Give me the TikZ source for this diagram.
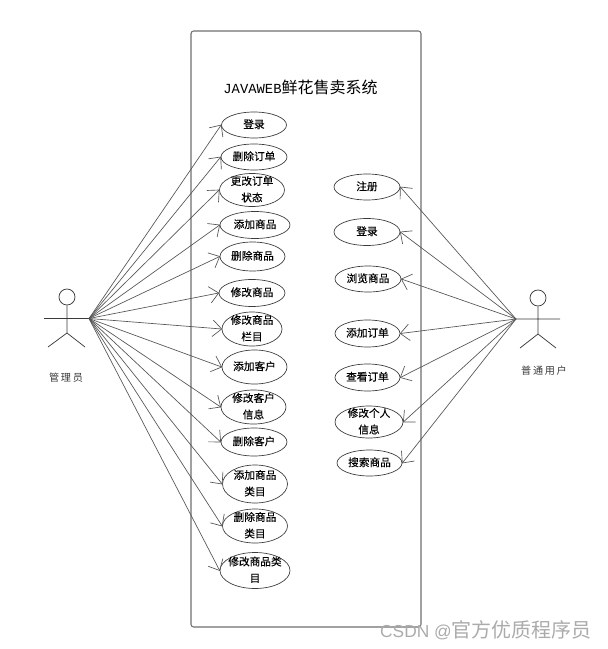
\documentclass[tikz,border=0pt]{standalone}
\usepackage{fontspec}
\setmainfont{Noto Sans CJK SC}
\newfontfamily\latmono{Liberation Mono}
\newfontfamily\latsans{Liberation Sans}
\newfontfamily\heavycjk[FakeBold=0.15]{Noto Sans CJK SC}
\usetikzlibrary{shapes.geometric,arrows.meta}
\newcommand{\utxt}[1]{\raisebox{-4pt}{\makebox[0pt][c]{\smash{\fontsize{8}{12.4}\heavycjk\begin{tabular}[c]{@{}c@{}}#1\end{tabular}}}}}
\pgfarrowsdeclare{openv}{openv}{\pgfarrowsleftextend{-6pt}\pgfarrowsrightextend{0pt}}{%
  \pgfsetdash{}{0pt}\pgfsetroundjoin
  \pgfpathmoveto{\pgfqpoint{-6.8pt}{6.2pt}}%
  \pgfpathlineto{\pgfqpoint{0pt}{0pt}}%
  \pgfpathlineto{\pgfqpoint{-6.8pt}{-6.2pt}}%
  \pgfusepathqstroke}
\definecolor{inkc}{HTML}{3A3A3A}
\definecolor{linec}{HTML}{555555}
\definecolor{framec}{HTML}{707070}
\definecolor{markc}{HTML}{ABABAB}
\tikzset{
  uc/.style 2 args={ellipse,draw=inkc,line width=0.5pt,fill=white,inner sep=0pt,text=black,
    minimum width={#1*1.5pt},minimum height={#2*1.5pt}},
  assoc/.style={draw=linec,line width=0.5pt,-openv},
  figure/.style={draw=inkc,line width=0.55pt},
  actorlabel/.style={font=\fontsize{7.6}{9}\selectfont,text=inkc,inner sep=0pt},
  sysframe/.style={draw=framec,line width=0.8pt,rounded corners=2pt},
}
\begin{document}
\begin{tikzpicture}[x=0.75pt,y=-0.75pt]
\useasboundingbox (0,0) rectangle (607,649);
\fill[white] (0,0) rectangle (607,649);
\node[sysframe,minimum width=172.5pt,minimum height=447pt,inner sep=0pt] (frame) at (306,329) {};
\node[inner sep=0pt] (title) at (300.5,87) {{\fontsize{10.4}{14}\latmono JAVAWEB}{\fontsize{12}{16}\selectfont 鲜花售卖系统}};
% left actor
\node[circle,figure,minimum size=12pt,inner sep=0pt] (lhead) at (67,297) {};
\coordinate (lhip) at (67,333);
\coordinate (larmL) at (44,318.5);
\coordinate (lhand) at (89,318.5);
\coordinate (lfootA) at (48,347);
\coordinate (lfootB) at (85,347);
\draw[figure] (lhead.south) -- (lhip) (larmL) -- (lhand) (lfootA) -- (lhip) -- (lfootB);
\node[actorlabel] (ladm) at (66,378) {管\,理\,员};
% right actor
\node[circle,figure,minimum size=12pt,inner sep=0pt] (rhead) at (538,298) {};
\coordinate (rhip) at (538,334);
\coordinate (rhand) at (516,319);
\coordinate (rarmR) at (560,319);
\coordinate (rfootA) at (520,348);
\coordinate (rfootB) at (556,348);
\draw[figure] (rhead.south) -- (rhip) (rhand) -- (rarmR) (rfootA) -- (rhip) -- (rfootB);
\node[actorlabel] (lusr) at (544,371) {普\,通\,用\,户};
% left use cases
\node[uc={32.5}{13}] (a1) at (254,125) {\utxt{登录}};
\node[uc={33}{13}] (a2) at (254,157) {\utxt{删除订单}};
\node[uc={32.5}{16.5}] (a3) at (252,190) {\utxt{更改订单\\状态}};
\node[uc={35}{13.5}] (a4) at (255,225) {\utxt{添加商品}};
\node[uc={32.5}{14.5}] (a5) at (252.5,256.5) {\utxt{删除商品}};
\node[uc={33}{13.5}] (a6) at (252,293) {\utxt{修改商品}};
\node[uc={30}{17}] (a7) at (252,329) {\utxt{修改商品\\栏目}};
\node[uc={32.5}{17}] (a8) at (254.5,367) {\utxt{添加客户}};
\node[uc={32.5}{17}] (a9) at (253.5,407) {\utxt{修改客户\\信息}};
\node[uc={33}{14}] (a10) at (254,442) {\utxt{删除客户}};
\node[uc={32.5}{19}] (a11) at (255,484) {\utxt{添加商品\\类目}};
\node[uc={32.5}{17}] (a12) at (255,526) {\utxt{删除商品\\类目}};
\node[uc={35}{18}] (a13) at (255,570.5) {\utxt{修改商品类\\目}};
% right use cases
\node[uc={33}{13}] (b1) at (367,187) {\utxt{注册}};
\node[uc={33}{13.5}] (b2) at (367,232) {\utxt{登录}};
\node[uc={33}{13}] (b3) at (368,279) {\utxt{浏览商品}};
\node[uc={32.5}{13.5}] (b4) at (367.5,333.5) {\utxt{添加订单}};
\node[uc={32.5}{13.5}] (b5) at (367.5,377.5) {\utxt{查看订单}};
\node[uc={34}{16}] (b6) at (369,422) {\utxt{修改个人\\信息}};
\node[uc={32.5}{13}] (b7) at (369.5,463) {\utxt{搜索商品}};
% connectors
\foreach \n in {a1,a2,a3,a4,a5,a6,a7,a8,a9,a10,a11,a12,a13}
  \draw[assoc] (lhand) -- (\n.west);
\foreach \n in {b1,b2,b3,b4,b5,b6,b7}
  \draw[assoc] (rhand) -- (\n.east);
\node[inner sep=0pt,text=markc,anchor=east] (mark) at (592,630.5) {{\fontsize{13}{15}\latsans CSDN @}{\fontsize{15}{17}\selectfont 官方优质程序员}};
\end{tikzpicture}
\end{document}
